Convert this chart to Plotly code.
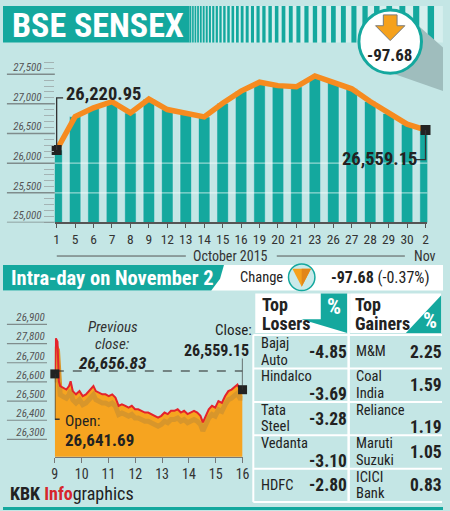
import plotly.graph_objects as go

W, H = 450, 511
BG = "#c4e6e5"
TEAL = "#14a89e"
ORANGE = "#f68b1f"
COND = "Liberation Sans Narrow, Arial Narrow, Roboto Condensed, Roboto, sans-serif"

# BSE Sensex closing values, 1 Oct 2015 .. 2 Nov 2015
oct_days = ["1", "5", "6", "7", "8", "9", "12", "13", "14", "15", "16",
            "19", "20", "21", "23", "26", "27", "28", "29", "30", "2"]
sensex_close = [26220.95, 26785, 26932, 27036, 26846, 27080, 26904, 26846, 26780,
                27010, 27214, 27365, 27307, 27288, 27471, 27362, 27253, 27040,
                26838, 26656.83, 26559.15]
sensex_ticks = [25000, 25500, 26000, 26500, 27000, 27500]

# intra-day on November 2 (hour of day, index level)
intraday_hour = [9.00, 9.04, 9.10, 9.15, 9.20, 9.31, 9.43, 9.53, 9.59, 9.67,
                 9.79, 9.92, 10.04, 10.16, 10.28, 10.37, 10.44, 10.53, 10.65, 10.77,
                 10.89, 11.01, 11.14, 11.26, 11.38, 11.50, 11.63, 11.75, 11.87, 11.99,
                 12.11, 12.24, 12.36, 12.48, 12.60, 12.72, 12.85, 12.97, 13.09, 13.21,
                 13.33, 13.46, 13.58, 13.70, 13.82, 13.95, 14.07, 14.19, 14.31, 14.43,
                 14.52, 14.62, 14.74, 14.86, 14.98, 15.10, 15.23, 15.35, 15.47, 15.59,
                 15.72, 15.81, 15.90, 16.00]
intraday_value = [26641.69, 26827, 26810, 26603, 26578, 26569, 26560, 26578, 26603, 26552,
                  26535, 26552, 26526, 26535, 26552, 26569, 26578, 26552, 26543, 26535,
                  26535, 26526, 26535, 26518, 26475, 26483, 26475, 26466, 26475, 26457,
                  26457, 26449, 26440, 26440, 26432, 26423, 26414, 26423, 26440, 26432,
                  26449, 26449, 26457, 26440, 26449, 26432, 26440, 26449, 26440, 26423,
                  26389, 26423, 26457, 26475, 26466, 26500, 26491, 26526, 26552, 26560,
                  26578, 26586, 26560, 26559.15]
intraday_hours_ticks = [9, 10, 11, 12, 13, 14, 15, 16]
intraday_ticks = [26200, 26300, 26400, 26500, 26600, 26700, 26800, 26900]
intraday_ticktext = ["26,200", "26,300", "26,400", "26,500", "26,600", "26,700", "27,800", "26,900"]
prev_close = 26656.83
day_change = -97.68
day_change_pct = -0.37

losers_name = ["Bajaj<br>Auto", "Hindalco", "Tata<br>Steel", "Vedanta", "HDFC"]
losers_pct = [-4.85, -3.69, -3.28, -3.10, -2.80]
gainers_name = ["M&M", "Coal<br>India", "Reliance", "Maruti<br>Suzuki", "ICICI<br>Bank"]
gainers_pct = [2.25, 1.59, 1.19, 1.05, 0.83]


def fx(x):
    return x / W


def fy(y):
    return 1 - y / H


shapes = []
annotations = []


def rect(x0, y0, x1, y1, color, layer="below"):
    shapes.append(dict(type="rect", xref="paper", yref="paper", x0=fx(x0), x1=fx(x1),
                       y0=fy(y1), y1=fy(y0), fillcolor=color, line_width=0, layer=layer))


def poly(points, color, layer="below", line=None):
    path = "M " + " L ".join(f"{fx(x):.4f},{fy(y):.4f}" for x, y in points) + " Z"
    shapes.append(dict(type="path", xref="paper", yref="paper", path=path, fillcolor=color,
                       line=line or dict(width=0), layer=layer))


def seg(x0, y0, x1, y1, color, width=1.0, layer="above"):
    shapes.append(dict(type="line", xref="paper", yref="paper", x0=fx(x0), y0=fy(y0),
                       x1=fx(x1), y1=fy(y1), line=dict(color=color, width=width), layer=layer))


def text(x, y, s, size, color="#222", xanchor="left"):
    annotations.append(dict(x=fx(x), y=fy(y), xref="paper", yref="paper", text=s,
                            showarrow=False, xanchor=xanchor, yanchor="middle",
                            font=dict(size=size, color=color, family=COND)))


# ---- header band with barcode stripes
rect(0, 0, 191, 37, TEAL)
rect(191, 0, 450, 37, "#d6efee")
sx, sw, sg = 191.0, 1.6, 0.8
while sx < 450:
    rect(sx, 0, min(sx + sw, 450), 37, TEAL)
    sx += sw + sg
    sw *= 1.04
    sg *= 1.07
text(7, 19, "<b>BSE SENSEX</b>", 34, "white")

# change badge top right
poly([(418, 14), (450, 42), (450, 86), (398, 68)], "#9fbdbd")
shapes.append(dict(type="circle", xref="paper", yref="paper", x0=fx(364), x1=fx(428),
                   y0=fy(68), y1=fy(4), fillcolor="white", line=dict(color=TEAL, width=3),
                   layer="below"))
poly([(389, 9), (403, 9), (403, 20), (411, 20), (396, 35), (381, 20), (389, 20)],
     "#f5a11c", line=dict(color="#7a7a7a", width=1))
text(395, 50, f"<b>{day_change:.2f}</b>", 17, xanchor="center")

# ---- intra-day title strip
rect(0, 262, 450, 288, "white")
poly([(0, 262), (226, 262), (222, 276), (213, 288), (0, 288)], TEAL)
text(6, 275, "<b>Intra-day on November 2</b>", 20.5, "white")
text(240, 275, "Change", 14.5)
shapes.append(dict(type="circle", xref="paper", yref="paper", x0=fx(292), x1=fx(319),
                   y0=fy(288), y1=fy(261), fillcolor="#c9eaea", line=dict(color=TEAL, width=1.5),
                   layer="below"))
poly([(296, 266), (315, 266), (305.5, 284)], "#f5a11c")
poly([(305.5, 266), (315, 266), (305.5, 284)], "#e2861a")
text(333, 275, f"<b>{day_change:.2f}</b> ({day_change_pct:.2f}%)", 16)

# ---- top gainers / losers table
rect(258, 291, 352, 331, "white")
rect(355, 291, 448, 331, "white")
poly([(325, 291), (352, 291), (352, 331), (305, 317), (325, 317)], TEAL)
poly([(412, 331), (448, 293), (448, 331)], TEAL)
text(263, 302, "<b>Top</b>", 18)
text(263, 321, "<b>Losers</b>", 18)
text(358, 302, "<b>Top</b>", 18)
text(358, 321, "<b>Gainers</b>", 18)
text(339, 304, "<b>%</b>", 22, "white", "center")
text(437, 318, "<b>%</b>", 22, "white", "center")

row_top, row_h = 333, 33.8
for i in range(6):
    seg(256, row_top + i * row_h, 449, row_top + i * row_h, "white", 2, "below")
seg(353.5, 291, 353.5, row_top + 5 * row_h, "white", 2.5, "below")
seg(256, row_top, 256, row_top + 5 * row_h, "white", 2, "below")

for names, vals, xl, xv in [(losers_name, losers_pct, 262, 311), (gainers_name, gainers_pct, 359, 414)]:
    for i, (n, v) in enumerate(zip(names, vals)):
        cy = row_top + i * row_h + row_h / 2
        if "<br>" in n:
            top_line, bottom_line = n.split("<br>")
            text(xl, cy - 8.4, top_line, 14.5)
            text(xl, cy + 8.4, bottom_line, 14.5)
            text(xv, cy, f"<b>{v:.2f}</b>", 17.5)
        elif len(n) > 5:
            text(xl, cy - 8.4, n, 14.5)
            text(xv, cy + 9, f"<b>{v:.2f}</b>", 17.5)
        else:
            text(xl, cy, n, 14.5)
            text(xv, cy, f"<b>{v:.2f}</b>", 17.5)

# footer
rect(0, 507, 450, 510, TEAL)
text(5, 493, "<b>KBK</b> <b><span style='color:#d7262c'>Info</span></b>graphics", 18)

# ---- top chart decorations
for v in sensex_ticks:
    shapes.append(dict(type="line", xref="paper", yref="y", x0=fx(4), x1=fx(53), y0=v, y1=v,
                       line=dict(color="#7f8c8c", width=1.5), layer="above"))
    if 25000 < v < min(sensex_close):
        shapes.append(dict(type="line", xref="paper", yref="y", x0=fx(53), x1=fx(434), y0=v, y1=v,
                           line=dict(color="rgba(255,255,255,0.55)", width=1.2), layer="above"))

first, last = sensex_close[0], sensex_close[-1]
shapes.append(dict(type="path", xref="x", yref="y", path=f"M 0,{first} L 0,27100 L 0.35,27100",
                   line=dict(color="#333", width=1.3), layer="above"))
shapes.append(dict(type="path", xref="x", yref="y", path=f"M 20,{last} L 20,26060 L 19.45,26060",
                   line=dict(color="#333", width=1.3), layer="above"))
text(62, 89, f"<b>{first:,.2f}</b>", 18.5)
text(345, 155, f"<b>{last:,.2f}</b>", 18.5)

seg(55, 253, 187, 253, "#555", 1)
seg(280, 253, 411, 253, "#555", 1)
text(233, 253, "October 2015", 14, "#333", "center")
text(432, 253, "Nov", 14, "#333", "center")

# ---- intra-day decorations
for v in intraday_ticks:
    shapes.append(dict(type="line", xref="paper", yref="y2", x0=fx(4), x1=fx(45), y0=v, y1=v,
                       line=dict(color="#7f8c8c", width=1.2), layer="above"))
shapes.append(dict(type="line", xref="x2", yref="y2", x0=9, x1=16, y0=prev_close, y1=prev_close,
                   line=dict(color="#222", width=1.2, dash="dash"), layer="above"))
open_v, close_v = intraday_value[0], intraday_value[-1]
shapes.append(dict(type="path", xref="x2", yref="y2", path=f"M 9,{open_v} L 9,26405 L 9.18,26405",
                   line=dict(color="#333", width=1.3), layer="above"))
shapes.append(dict(type="line", xref="x2", yref="y2", x0=16, x1=16, y0=close_v, y1=26722,
                   line=dict(color="#333", width=1.3), layer="above"))
text(112, 325, "<i>Previous</i>", 15, "#333", "center")
text(112, 342.5, "<i>close:</i>", 15, "#333", "center")
text(112, 361, f"<b><i>{prev_close:,.2f}</i></b>", 17, "#222", "center")
text(215, 328, "Close:", 15)
text(183, 349, f"<b>{close_v:,.2f}</b>", 16)
text(61, 420, "Open:", 15.5)
text(61, 439, f"<b>{open_v:,.2f}</b>", 17)

fig = go.Figure()
idx = list(range(len(oct_days)))
fig.add_trace(go.Bar(x=idx, y=sensex_close, marker_color=TEAL, width=0.62, xaxis="x", yaxis="y"))
fig.add_trace(go.Scatter(x=idx, y=sensex_close, mode="lines", line=dict(color=ORANGE, width=5.5),
                         xaxis="x", yaxis="y"))
fig.add_trace(go.Scatter(x=[idx[0], idx[-1]], y=[first, last], mode="markers", cliponaxis=False,
                         marker=dict(symbol="square", size=10, color="#222"), xaxis="x", yaxis="y"))

fig.add_trace(go.Scatter(x=intraday_hour, y=intraday_value, mode="lines", fill="tozeroy",
                         fillcolor="#f6a420", line=dict(width=0), xaxis="x2", yaxis="y2"))
fig.add_trace(go.Scatter(x=intraday_hour, y=intraday_value, mode="lines",
                         line=dict(color="#d8962b", width=5), xaxis="x2", yaxis="y3"))
fig.add_trace(go.Scatter(x=intraday_hour, y=intraday_value, mode="lines",
                         line=dict(color="#e4232b", width=2), xaxis="x2", yaxis="y4"))
fig.add_trace(go.Scatter(x=[9, 16], y=[open_v, close_v], mode="markers", cliponaxis=False,
                         marker=dict(symbol="square", size=9, color="#222"), xaxis="x2", yaxis="y4"))

lo, hi = 26210, 26937
tickfont_y = dict(size=11, color="#555", family=COND, style="italic")
fig.update_layout(
    width=W, height=H, margin=dict(l=0, r=0, t=0, b=0),
    paper_bgcolor=BG, plot_bgcolor="rgba(0,0,0,0)", showlegend=False, hovermode=False,
    shapes=shapes, annotations=annotations,
    xaxis=dict(domain=[fx(53), fx(434)], range=[-0.1, 20.1], tickvals=idx, ticktext=oct_days,
               tickfont=dict(size=13.5, color="#333", family=COND), ticks="outside", ticklen=4,
               tickcolor="#555", showline=True, linecolor="#555", linewidth=1.5,
               showgrid=False, zeroline=False, anchor="y", fixedrange=True),
    yaxis=dict(domain=[fy(219), fy(57)], range=[25000, 27700], tickvals=sensex_ticks, tickformat=",",
               tickfont=tickfont_y, ticks="outside", ticklen=10, tickcolor="#a3b3b3",
               ticklabelshift=-7,
               minor=dict(dtick=100, ticks="outside", ticklen=10, tickcolor="#a3b3b3", showgrid=False),
               showgrid=False, zeroline=False, showline=False, anchor="x", fixedrange=True),
    xaxis2=dict(domain=[fx(53), fx(245)], range=[9, 16], tickvals=intraday_hours_ticks,
                tickfont=dict(size=14, color="#333", family=COND), ticks="outside", ticklen=5,
                tickcolor="#777", showline=True, linecolor="#777", showgrid=False, zeroline=False,
                anchor="y2", fixedrange=True),
    yaxis2=dict(domain=[fy(456), fy(315)], range=[lo, hi], tickvals=intraday_ticks,
                ticktext=intraday_ticktext, tickfont=tickfont_y, ticks="", ticklabelstandoff=9,
                ticklabelshift=-7, showgrid=False, zeroline=False, showline=False, anchor="x2",
                fixedrange=True),
    yaxis3=dict(overlaying="y2", anchor="x2", range=[lo + 45, hi + 45], visible=False),
    yaxis4=dict(overlaying="y2", anchor="x2", range=[lo, hi], visible=False),
)

# the page's default body margin would push the 450x511 figure out of the window
page_fix = ("document.documentElement.style.overflow='hidden';"
            "document.body.style.margin='0';document.body.style.overflow='hidden';")
fig.write_html("out.html", config={"displayModeBar": False}, post_script=page_fix)
